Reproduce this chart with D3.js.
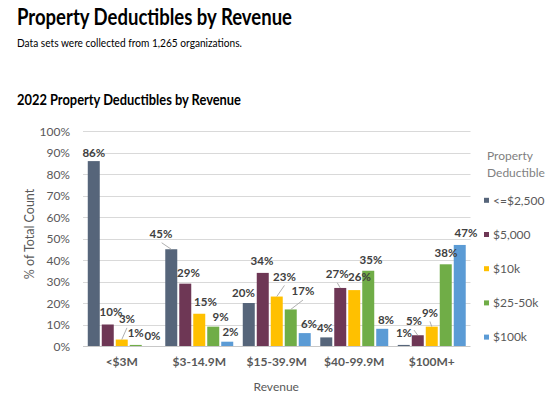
<!DOCTYPE html>
<html>
<head>
<meta charset="utf-8">
<script src="https://cdn.jsdelivr.net/npm/d3@7"></script>
<style>
  html, body { margin: 0; padding: 0; background: #fff; }
  svg { display: block; font-family: Lato, "Open Sans", sans-serif; }
</style>
</head>
<body>
<svg id="chart" width="560" height="396"></svg>
<script>
// ---- data ----
const categories = ["<$3M", "$3-14.9M", "$15-39.9M", "$40-99.9M", "$100M+"];
const seriesNames = ["<=$2,500", "$5,000", "$10k", "$25-50k", "$100k"];
const seriesColors = ["#56657a", "#6e3755", "#ffc000", "#70ad47", "#5b9bd5"];
// percent of total count, one array per series (across revenue categories)
const valuesLe2500 = [86, 45, 20, 4, 0.5];
const values5000   = [10, 29, 34, 27, 5];
const values10k    = [3, 15, 23, 26, 9];
const values25_50k = [0.5, 9, 17, 35, 38];
const values100k   = [0, 2, 6, 8, 47];
const yTicks = [0, 10, 20, 30, 40, 50, 60, 70, 80, 90, 100];

// label placement tweaks (layout only): [dx, dy, leader] per series per category
const labelLayout = [
  [[0,-8,0],[-10.3,-15.3,1],[-5.3,-9.7,0],[-1.3,-9.1,0],[0.2,-11.9,0]],
  [[3.2,-12.8,0],[3.2,-10.4,0],[-0.8,-11.9,0],[-3,-14,1],[-3.8,-14,1]],
  [[5.2,-20.5,1],[6.2,-11.8,0],[7.7,-19.9,1],[5.2,-13.4,0],[-1.8,-14,1]],
  [[0,-12,0],[7.4,-10,0],[12.2,-18.2,1],[2.7,-10.75,0],[0.2,-11.6,0]],
  [[2.7,-10,0],[3.2,-9.7,0],[4.2,-9.4,0],[3.7,-8.8,0],[6.2,-11.65,0]]
];

const seriesValues = [valuesLe2500, values5000, values10k, values25_50k, values100k];

const svg = d3.select("#chart");

// ---- titles ----
svg.append("text").attr("x", 17).attr("y", 24.5)
  .attr("font-size", 22).attr("font-weight", 700).attr("fill", "#000")
  .attr("textLength", 275).attr("lengthAdjust", "spacingAndGlyphs")
  .text("Property Deductibles by Revenue");
svg.append("text").attr("x", 17).attr("y", 47)
  .attr("font-size", 11).attr("fill", "#000")
  .attr("textLength", 225).attr("lengthAdjust", "spacingAndGlyphs")
  .text("Data sets were collected from 1,265 organizations.");
svg.append("text").attr("x", 17).attr("y", 105)
  .attr("font-size", 14.5).attr("font-weight", 700).attr("fill", "#000")
  .attr("textLength", 224).attr("lengthAdjust", "spacingAndGlyphs")
  .text("2022 Property Deductibles by Revenue");

// ---- scales ----
const plotLeft = 83, plotRight = 470.5, plotTop = 131, plotBottom = 346;
const x0 = d3.scaleBand().domain(categories).range([plotLeft, plotRight])
  .paddingInner(0.123).paddingOuter(0.0615);
const x1 = d3.scaleBand().domain(d3.range(seriesNames.length))
  .range([0, x0.bandwidth()]).paddingInner(2 / 14).paddingOuter(0);
const y = d3.scaleLinear().domain([0, 100]).range([plotBottom, plotTop]);

// ---- gridlines ----
svg.append("g").selectAll("line").data(yTicks).join("line")
  .attr("x1", plotLeft).attr("x2", plotRight)
  .attr("y1", d => Math.round(y(d)) + 0.5).attr("y2", d => Math.round(y(d)) + 0.5)
  .attr("stroke", d => d === 0 ? "#c8c8c8" : "#d9d9d9").attr("stroke-width", 1);

// ---- y axis labels ----
const yAxis = d3.axisLeft(y).tickValues(yTicks).tickSize(0).tickPadding(0)
  .tickFormat(d => d + "%");
const yg = svg.append("g").attr("transform", `translate(70,0)`).call(yAxis);
yg.select(".domain").remove();
yg.selectAll("text").attr("font-size", 12).attr("fill", "#595959")
  .attr("font-family", "Lato, sans-serif").attr("dy", "0.35em");

svg.append("text")
  .attr("transform", "translate(34,234) rotate(-90)")
  .attr("text-anchor", "middle").attr("font-size", 12.5).attr("fill", "#595959")
  .text("% of Total Count");

// ---- x axis labels ----
const xAxis = d3.axisBottom(x0).tickSize(0).tickPadding(0);
const xg = svg.append("g").attr("transform", `translate(0,${plotBottom})`).call(xAxis);
xg.select(".domain").remove();
xg.selectAll("text").attr("font-size", 12).attr("font-weight", 700).attr("fill", "#595959")
  .attr("font-family", "Lato, sans-serif").attr("y", 20).attr("dy", 0);

svg.append("text").attr("x", (plotLeft + plotRight) / 2 - 0.5).attr("y", 390.5)
  .attr("text-anchor", "middle").attr("font-size", 12).attr("fill", "#595959")
  .text("Revenue");

// ---- bars ----
const cells = [];
seriesValues.forEach((vals, s) => {
  vals.forEach((v, c) => cells.push({ s, c, v, cat: categories[c] }));
});

svg.append("g").selectAll("rect").data(cells).join("rect")
  .attr("x", d => x0(d.cat) + x1(d.s))
  .attr("width", x1.bandwidth())
  .attr("y", d => y(d.v))
  .attr("height", d => plotBottom - y(d.v))
  .attr("fill", d => seriesColors[d.s]);

// ---- leaders & labels ----
const lab = svg.append("g");
cells.forEach(d => {
  const cx = x0(d.cat) + x1(d.s) + x1.bandwidth() / 2;
  const top = y(d.v);
  const [dx, dy, leader] = labelLayout[d.s][d.c];
  const lx = cx + dx, ly = top + dy;
  if (leader) {
    lab.append("line")
      .attr("x1", lx + (d.s === 0 && d.c === 1 ? 0.7 : 0)).attr("y1", ly + 8.8)
      .attr("x2", cx).attr("y2", top)
      .attr("stroke", "#a6a6a6").attr("stroke-width", 0.9);
  }
  lab.append("text").attr("x", lx).attr("y", ly).attr("dy", "0.35em")
    .attr("text-anchor", "middle").attr("font-size", 11.5).attr("font-weight", 700)
    .attr("fill", "#404040")
    .text(Math.round(d.v) + "%");
});

// ---- legend ----
const legend = svg.append("g");
legend.append("text").attr("x", 487).attr("y", 159.5).attr("font-size", 12).attr("fill", "#7f7f7f").text("Property");
legend.append("text").attr("x", 487).attr("y", 177).attr("font-size", 12).attr("fill", "#7f7f7f").text("Deductible");
const li = legend.selectAll("g.item").data(seriesNames).join("g").attr("class", "item")
  .attr("transform", (d, i) => `translate(484,${200.3 + i * 34.2})`);
li.append("rect").attr("x", 0).attr("y", -2.5).attr("width", 5).attr("height", 5)
  .attr("fill", (d, i) => seriesColors[i]);
li.append("text").attr("x", 9).attr("y", 0).attr("dy", "0.35em")
  .attr("font-size", 12).attr("fill", "#595959").text(d => d);
</script>
</body>
</html>
